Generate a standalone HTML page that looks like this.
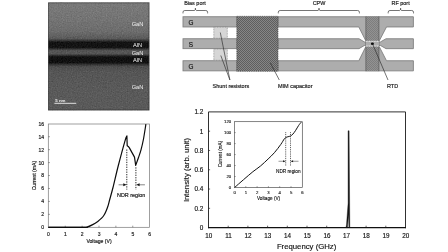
<!DOCTYPE html>
<html><head><meta charset="utf-8"><title>Figure</title>
<style>
html,body{margin:0;padding:0;background:#fff;}
body{width:448px;height:252px;overflow:hidden;}
svg{display:block;font-family:"Liberation Sans",Arial,sans-serif;}
</style></head><body>
<svg width="448" height="252" viewBox="0 0 448 252">
<defs>
<linearGradient id="tem" x1="0" y1="0" x2="0" y2="1">
<stop offset="0.0000" stop-color="#7a7a7a"/>
<stop offset="0.1617" stop-color="#747474"/>
<stop offset="0.2732" stop-color="#6c6c6c"/>
<stop offset="0.3346" stop-color="#5a5a5a"/>
<stop offset="0.3550" stop-color="#303030"/>
<stop offset="0.3699" stop-color="#141414"/>
<stop offset="0.4164" stop-color="#141414"/>
<stop offset="0.4312" stop-color="#343434"/>
<stop offset="0.4461" stop-color="#545454"/>
<stop offset="0.4721" stop-color="#565656"/>
<stop offset="0.4851" stop-color="#404040"/>
<stop offset="0.4991" stop-color="#1a1a1a"/>
<stop offset="0.5130" stop-color="#111111"/>
<stop offset="0.5576" stop-color="#121212"/>
<stop offset="0.5734" stop-color="#303030"/>
<stop offset="0.5948" stop-color="#4e4e4e"/>
<stop offset="0.6450" stop-color="#565656"/>
<stop offset="0.8123" stop-color="#5a5a5a"/>
<stop offset="1.0000" stop-color="#5a5a5a"/>
</linearGradient>
<filter id="nz" x="0" y="0" width="100%" height="100%" color-interpolation-filters="sRGB"><feTurbulence type="fractalNoise" baseFrequency="0.8" numOctaves="2" seed="3"/><feColorMatrix type="matrix" values="0.33 0.33 0.33 0 0  0.33 0.33 0.33 0 0  0.33 0.33 0.33 0 0  0 0 0 0 1" result="n"/><feComposite in="SourceGraphic" in2="n" operator="arithmetic" k1="0" k2="1" k3="0.25" k4="-0.125"/></filter>
<pattern id="hx" width="2" height="2" patternUnits="userSpaceOnUse"><rect width="2" height="2" fill="#868686"/><rect width="1" height="1" fill="#5e5e5e"/><rect x="1" y="1" width="1" height="1" fill="#5e5e5e"/></pattern>
<pattern id="hx2" width="2" height="2" patternUnits="userSpaceOnUse"><rect width="2" height="2" fill="#929292"/><rect width="1" height="1" fill="#7e7e7e"/><rect x="1" y="1" width="1" height="1" fill="#7e7e7e"/></pattern>
</defs>
<rect width="448" height="252" fill="#fff"/>
<!-- TEM image -->
<rect x="48.3" y="2.6" width="100.9" height="107.6" fill="url(#tem)" filter="url(#nz)"/>
<rect x="48.6" y="2.9" width="100.3" height="107" fill="none" stroke="#303030" stroke-opacity="0.7" stroke-width="0.7"/>
<g font-size="5.7" fill="#f2f2f2" text-anchor="middle">
<text x="137.5" y="25.8">GaN</text><text x="137.5" y="47.3">AlN</text><text x="137.5" y="55">GaN</text><text x="137.5" y="62.4">AlN</text><text x="137.5" y="88.6">GaN</text>
<text x="60.4" y="101.6" font-size="4.4" font-weight="bold">5 nm</text>
</g>
<path d="M54.4,103.3 H76.3" stroke="#f0f0f0" stroke-width="0.9"/>
<!-- schematic -->
<g fill="#adadad" stroke="#808080" stroke-width="0.9">
<rect x="183" y="16.75" width="54" height="10.2"/>
<rect x="183" y="38.75" width="54" height="9.9"/>
<rect x="183" y="60.75" width="54" height="10.1"/>
<path d="M278,16.75 H413.4 V26.95 H386.5 L379.4,40.6 H365.7 L358.8,26.95 H278 Z"/>
<path d="M278,38.75 H359 L364.3,41.9 H380.5 L386,38.75 H413.4 V48.65 H386 L380.5,45.5 H364.3 L359,48.65 H278 Z"/>
<path d="M278,70.85 H413.4 V60.75 H386.5 L379.4,46.9 H365.7 L358.8,60.75 H278 Z"/>
</g>
<g fill="#d6d6d6" stroke="#777" stroke-width="0.6" stroke-dasharray="0.9 0.7">
<rect x="213.8" y="27.2" width="13.5" height="11.1"/>
<rect x="213.8" y="49" width="13.5" height="11.3"/>
</g>
<rect x="236.8" y="16.3" width="41.2" height="55" fill="url(#hx)" stroke="#4a4a4a" stroke-width="0.7" stroke-dasharray="1.1 0.7"/>
<rect x="365.7" y="16.5" width="13.4" height="54.7" fill="url(#hx2)"/>
<path d="M365.9,16.5 V71.2 M378.9,16.5 V71.2" stroke="#5a5a5a" stroke-width="0.7"/>
<rect x="365.9" y="41.3" width="13" height="4.8" fill="#adadad"/>
<path d="M365.7,41.3 H379.2 M365.7,46.1 H379.2" stroke="#fafafa" stroke-width="0.85" stroke-dasharray="1.2 0.4"/>
<ellipse cx="372.4" cy="43.7" rx="1.5" ry="1.25" fill="#0a0a0a"/>
<path d="M220.3,32.5 L229.9,80 M220.8,55.5 L229.9,80 M270.3,62.8 L279.3,80 M372.6,44 L388,80" stroke="#2a2a2a" stroke-width="0.65" fill="none"/>
<path d="M183.00,13.4 V12.2 Q183.00,10.5 184.80,10.5 H194.50 Q195.40,10.4 195.40,8.2 Q195.40,10.4 196.30,10.5 H205.80 Q207.60,10.5 207.60,12.2 V13.4 M278.30,13.4 V12.2 Q278.30,10.5 280.10,10.5 H318.10 Q319.00,10.4 319.00,8.2 Q319.00,10.4 319.90,10.5 H357.60 Q359.40,10.5 359.40,12.2 V13.4 M388.20,13.4 V12.2 Q388.20,10.5 390.00,10.5 H399.70 Q400.60,10.4 400.60,8.2 Q400.60,10.4 401.50,10.5 H411.70 Q413.50,10.5 413.50,12.2 V13.4" stroke="#3a3a3a" stroke-width="0.7" fill="none"/>
<g font-size="5.45" fill="#222" stroke="#222" stroke-width="0.18" text-anchor="middle">
<text x="195" y="5.4">Bias port</text>
<text x="319" y="5.4">CPW</text>
<text x="400.6" y="5.4">RF port</text>
<text x="230.9" y="88.2" font-size="5.5">Shunt resistors</text>
<text x="295.2" y="88.2" font-size="5.5">MIM capacitor</text>
<text x="392.6" y="88.2" font-size="5.5">RTD</text>
</g>
<g font-size="6.4" fill="#111" stroke="#111" stroke-width="0.15" text-anchor="middle">
<text x="190.9" y="25.1">G</text><text x="190.9" y="46.6">S</text><text x="190.9" y="68.8">G</text>
</g>
<!-- left I-V chart -->
<g fill="none">
<rect x="48.3" y="124" width="101.1" height="103.3" stroke="#777" stroke-width="0.7"/>
<path d="M48.3,214.36 h1.6 M48.3,201.42 h1.6 M48.3,188.48 h1.6 M48.3,175.54 h1.6 M48.3,162.60 h1.6 M48.3,149.66 h1.6 M48.3,136.72 h1.6 M65.27,227.3 v-1.6 M82.14,227.3 v-1.6 M99.01,227.3 v-1.6 M115.88,227.3 v-1.6 M132.75,227.3 v-1.6 " stroke="#555" stroke-width="0.6"/>
<path d="M48.3,227.3 H88" stroke="#111" stroke-width="1.1"/>
<path d="M48.40,227.30 C51.17,227.30 59.40,227.30 65.00,227.30 C70.60,227.30 78.33,227.33 82.00,227.30 C85.67,227.27 85.22,227.55 87.00,227.10 C88.78,226.65 90.90,225.55 92.70,224.60 C94.50,223.65 96.32,222.47 97.80,221.40 C99.28,220.33 100.55,219.27 101.60,218.20 C102.65,217.13 103.37,216.17 104.10,215.00 C104.83,213.83 105.37,212.67 106.00,211.20 C106.63,209.73 107.30,208.07 107.90,206.20 C108.50,204.33 108.75,203.12 109.60,200.00 C110.45,196.88 111.57,193.17 113.00,187.50 C114.43,181.83 116.20,173.78 118.20,166.00 C120.20,158.22 123.55,145.82 125.00,140.80 C126.45,135.78 126.58,136.72 126.90,135.90 L127.20,145.70 L128.30,146.40 L129.40,147.90 L134.50,157.10 L135.70,165.30 C136.17,164.00 137.62,160.08 138.50,157.50 C139.38,154.92 140.18,152.80 141.00,149.80 C141.82,146.80 142.58,143.77 143.40,139.50 C144.22,135.23 145.48,126.75 145.90,124.20" stroke="#0c0c0c" stroke-width="1.2" stroke-linejoin="round"/>
<path d="M126.8,149.5 V189.6 M135.9,167.3 V189.6" stroke="#111" stroke-width="0.9" stroke-dasharray="1.3 1.15"/>
<path d="M118.6,184.8 H124 M139,184.8 H144.9" stroke="#333" stroke-width="0.6"/>
<path d="M126.6,184.8 l-3.3,-1.5 v3 z M136.3,184.8 l3.3,-1.5 v3 z" fill="#111" stroke="none"/>
</g>
<g font-size="5.1" fill="#222" stroke="#222" stroke-width="0.18" text-anchor="end">
<text x="44.2" y="229.20">0</text>
<text x="44.2" y="216.26">2</text>
<text x="44.2" y="203.32">4</text>
<text x="44.2" y="190.38">6</text>
<text x="44.2" y="177.44">8</text>
<text x="44.2" y="164.50">10</text>
<text x="44.2" y="151.56">12</text>
<text x="44.2" y="138.62">14</text>
<text x="44.2" y="125.68">16</text>
</g>
<g font-size="5" fill="#222" stroke="#222" stroke-width="0.18" text-anchor="middle">
<text x="48.50" y="235.5">0</text>
<text x="65.37" y="235.5">1</text>
<text x="82.24" y="235.5">2</text>
<text x="99.11" y="235.5">3</text>
<text x="115.98" y="235.5">4</text>
<text x="132.85" y="235.5">5</text>
<text x="149.72" y="235.5">6</text>
<text x="99" y="242.9" font-size="5.1">Voltage (V)</text>
<text transform="translate(36.3,175.6) rotate(-90)" font-size="5.1">Current (mA)</text>
<text x="131.2" y="196.6" font-size="5.45">NDR region</text>
</g>
<!-- right spectrum chart -->
<g fill="none" stroke="#222">
<path d="M208.5,228.2 V111.9 H405.5 V228.2" stroke="#1a1a1a" stroke-width="0.9"/>
<path d="M208.1,227.7 H405.9" stroke="#111" stroke-width="1.3"/>
<path d="M208.5,208.32 h1.6 M208.5,189.04 h1.6 M208.5,169.76 h1.6 M208.5,150.48 h1.6 M208.5,131.20 h1.6 M228.20,227.6 v-1.9 M247.90,227.6 v-1.9 M267.60,227.6 v-1.9 M287.30,227.6 v-1.9 M307.00,227.6 v-1.9 M326.70,227.6 v-1.9 M346.40,227.6 v-1.9 M366.10,227.6 v-1.9 M385.80,227.6 v-1.9 " stroke="#222" stroke-width="0.7"/>
<path d="M346.3,227.6 L348.1,203 L348.1,130.8 L349.1,130.8 L349.8,227.6 L348.9,227.6 L348.6,214 L347.4,227.6 Z" fill="#111" stroke="#111" stroke-width="0.4" stroke-linejoin="round"/>
</g>
<g font-size="6.4" fill="#111" stroke="#111" stroke-width="0.15" text-anchor="end">
<text x="203.3" y="229.90">0</text>
<text x="203.3" y="210.62">0.2</text>
<text x="203.3" y="191.34">0.4</text>
<text x="203.3" y="172.06">0.6</text>
<text x="203.3" y="152.78">0.8</text>
<text x="203.3" y="133.50">1</text>
<text x="203.3" y="114.22">1.2</text>
</g>
<g font-size="6.3" fill="#111" stroke="#111" stroke-width="0.15" text-anchor="middle">
<text x="208.70" y="237.6">10</text>
<text x="228.40" y="237.6">11</text>
<text x="248.10" y="237.6">12</text>
<text x="267.80" y="237.6">13</text>
<text x="287.50" y="237.6">14</text>
<text x="307.20" y="237.6">15</text>
<text x="326.90" y="237.6">16</text>
<text x="346.60" y="237.6">17</text>
<text x="366.30" y="237.6">18</text>
<text x="386.00" y="237.6">19</text>
<text x="405.70" y="237.6">20</text>
<text x="306.6" y="248.6" font-size="7.75">Frequency (GHz)</text>
<text transform="translate(189.4,170) rotate(-90)" font-size="7.75">Intensity (arb. unit)</text>
</g>
<g fill="none" stroke="#222">
<rect x="234.4" y="121.7" width="67.9" height="65.8" stroke="#444" stroke-width="0.65"/>
<path d="M234.4,176.52 h1.3 M234.4,165.54 h1.3 M234.4,154.56 h1.3 M234.4,143.58 h1.3 M234.4,132.60 h1.3 M245.80,187.5 v-1.3 M257.10,187.5 v-1.3 M268.40,187.5 v-1.3 M279.70,187.5 v-1.3 M291.00,187.5 v-1.3 " stroke="#333" stroke-width="0.5"/>
<path d="M234.60,187.50 C236.08,186.20 240.45,182.33 243.50,179.70 C246.55,177.07 250.07,173.98 252.90,171.70 C255.73,169.42 257.97,168.12 260.50,166.00 C263.03,163.88 265.78,161.22 268.10,159.00 C270.42,156.78 272.28,155.13 274.40,152.70 C276.52,150.27 279.15,146.70 280.80,144.40 C282.45,142.10 283.40,140.07 284.30,138.90 C285.20,137.73 285.57,137.77 286.20,137.40 C286.83,137.03 287.38,136.93 288.10,136.70 C288.82,136.47 289.70,136.43 290.50,136.00 C291.30,135.57 292.03,135.05 292.90,134.10 C293.77,133.15 294.75,131.73 295.70,130.30 C296.65,128.87 297.65,126.88 298.60,125.50 C299.55,124.12 300.93,122.58 301.40,122.00" stroke="#111" stroke-width="1"/>
<path d="M285.7,132.2 V166 M290.5,132.2 V166" stroke="#222" stroke-width="0.75" stroke-dasharray="0.95 0.9"/>
<path d="M278.5,161.25 H284 M292.5,161.25 H298.5" stroke="#333" stroke-width="0.5"/>
<path d="M285.7,161.25 l-2.6,-1.1 v2.2 z M290.5,161.25 l2.6,-1.1 v2.2 z" fill="#111" stroke="none"/>
</g>
<g font-size="4.3" fill="#111" stroke="#111" stroke-width="0.12" text-anchor="end">
<text x="231.2" y="189.00">0</text>
<text x="231.2" y="178.02">20</text>
<text x="231.2" y="167.04">40</text>
<text x="231.2" y="156.06">60</text>
<text x="231.2" y="145.08">80</text>
<text x="231.2" y="134.10">100</text>
<text x="231.2" y="123.12">120</text>
</g>
<g font-size="4.3" fill="#111" stroke="#111" stroke-width="0.12" text-anchor="middle">
<text x="234.60" y="194.1">0</text>
<text x="245.90" y="194.1">1</text>
<text x="257.20" y="194.1">2</text>
<text x="268.50" y="194.1">3</text>
<text x="279.80" y="194.1">4</text>
<text x="291.10" y="194.1">5</text>
<text x="302.40" y="194.1">6</text>
<text x="268.6" y="200.4" font-size="4.7">Voltage (V)</text>
<text transform="translate(221.8,154.1) rotate(-90)" font-size="4.6">Current (mA)</text>
<text x="288.3" y="172.9" font-size="4.7">NDR region</text>
</g>
</svg>
</body></html>
